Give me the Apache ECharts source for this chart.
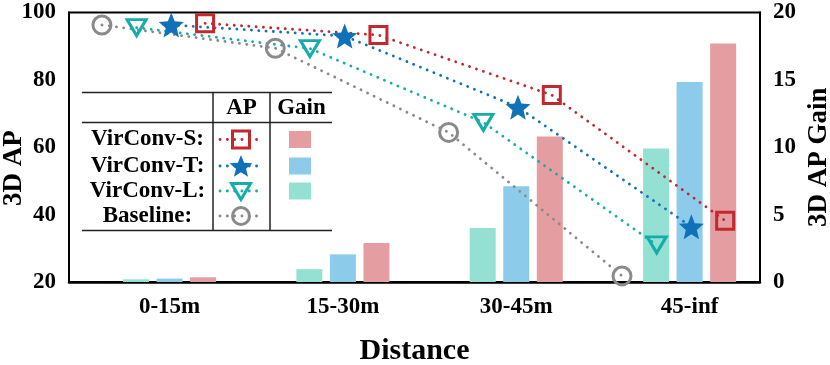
<!DOCTYPE html>
<html>
<head>
<meta charset="utf-8">
<title>3D AP vs Distance</title>
<script src="https://cdn.jsdelivr.net/npm/echarts@6/dist/echarts.min.js"></script>
<style>
    html, body { margin: 0; padding: 0; background: #fff; }
    #chart { width: 830px; height: 365px; }
</style>
</head>
<body>
<div id="chart"></div>
<script>
var categories = ['0-15m', '15-30m', '30-45m', '45-inf'];

// 3D AP, left axis
var apVirConvS = [96.8, 93.3, 75.5, 38.2];
var apVirConvT = [96.3, 93.0, 71.9, 36.4];
var apVirConvL = [95.5, 89.3, 67.4, 31.0];
var apBaseline = [96.3, 89.4, 64.4, 21.8];

// 3D AP gain, right axis
var gainVirConvS = [0.35, 2.9, 10.8, 17.7];
var gainVirConvT = [0.25, 2.05, 7.1, 14.85];
var gainVirConvL = [0.2, 0.95, 4.0, 9.9];

var apTicks = [20, 40, 60, 80, 100];
var gainTicks = [0, 5, 10, 15, 20];

var FONT = '"Liberation Serif", "Times New Roman", serif';
var colors = {
    s: '#c3282e', t: '#0f72b8', l: '#15adab', base: '#8a8a8a',
    barS: '#e49ea1', barT: '#8dcbeb', barL: '#94e1d4'
};
// dotted line: round dots
var DOTS = [0.1, 7.2];

function starPoints(cx, cy, R, r) {
    var pts = [];
    for (var k = 0; k < 10; k++) {
        var a = -Math.PI / 2 + k * Math.PI / 5;
        var rad = k % 2 === 0 ? R : r;
        pts.push([cx + rad * Math.cos(a), cy + rad * Math.sin(a)]);
    }
    return pts;
}
var starSymbol = 'path://' + starPoints(50, 50, 50, 22).map(function (p, k) {
    return (k === 0 ? 'M' : 'L') + p[0].toFixed(2) + ',' + p[1].toFixed(2);
}).join('') + 'Z';

function lineSeries(name, values, offset, color, symbol, extra) {
    var s = {
        name: name,
        type: 'line',
        yAxisIndex: 0,
        z: 5,
        data: values.map(function (v, i) { return [i + offset, v]; }),
        symbol: symbol,
        symbolSize: 17,
        showAllSymbol: true,
        lineStyle: { color: color, width: 2.8, type: DOTS, cap: 'round' },
        itemStyle: { color: 'rgba(0,0,0,0)', borderColor: color, borderWidth: 3 },
        emphasis: { disabled: true }
    };
    for (var key in extra) { s[key] = extra[key]; }
    return s;
}

function barSeries(name, values, color) {
    return {
        name: name,
        type: 'bar',
        yAxisIndex: 1,
        z: 2,
        barWidth: 26,
        barGap: '29%',
        data: values.map(function (v, i) { return [i, v]; }),
        itemStyle: { color: color },
        emphasis: { disabled: true }
    };
}

// table-like legend drawn with graphic elements
function buildLegend() {
    var els = [];
    var x0 = 82, x1 = 332, vx1 = 213, vx2 = 270;
    var yTop = 92.5, yHead = 122.5, yBot = 230.5;
    var lineStyle = { stroke: '#222', lineWidth: 1.5 };
    [yTop, yHead, yBot].forEach(function (y) {
        els.push({ type: 'line', shape: { x1: x0, y1: y, x2: x1, y2: y }, style: lineStyle });
    });
    [vx1, vx2].forEach(function (x) {
        els.push({ type: 'line', shape: { x1: x, y1: yTop, x2: x, y2: yBot }, style: lineStyle });
    });
    function text(str, x, y) {
        els.push({
            type: 'text',
            style: {
                text: str, x: x, y: y, fill: '#000',
                font: 'bold 23px ' + FONT,
                textAlign: 'center', textVerticalAlign: 'middle',
                align: 'center', verticalAlign: 'middle'
            }
        });
    }
    text('AP', 241.5, 108);
    text('Gain', 301.5, 108);

    var apX = 241, gainX = 300;
    var rows = [
        { label: 'VirConv-S:', y: 139.5, color: colors.s, marker: 'square', bar: colors.barS },
        { label: 'VirConv-T:', y: 166, color: colors.t, marker: 'star', bar: colors.barT },
        { label: 'VirConv-L:', y: 191, color: colors.l, marker: 'triangle', bar: colors.barL },
        { label: 'Baseline:', y: 216, color: colors.base, marker: 'circle', bar: null }
    ];
    rows.forEach(function (r) {
        text(r.label, 147.5, r.y);
        els.push({
            type: 'line',
            shape: { x1: apX - 21, y1: r.y, x2: apX + 21, y2: r.y },
            style: { stroke: r.color, lineWidth: 2.8, lineDash: DOTS, lineCap: 'round' }
        });
        var hollow = { fill: 'none', stroke: r.color, lineWidth: 3 };
        if (r.marker === 'square') {
            els.push({ type: 'rect', shape: { x: apX - 8.5, y: r.y - 8.5, width: 17, height: 17 }, style: hollow });
        } else if (r.marker === 'star') {
            els.push({ type: 'polygon', shape: { points: starPoints(apX, r.y + 1, 12, 5.3) }, style: { fill: r.color } });
        } else if (r.marker === 'triangle') {
            els.push({ type: 'polygon', shape: { points: [[apX - 9.5, r.y - 7.5], [apX + 9.5, r.y - 7.5], [apX, r.y + 8.5]] }, style: hollow });
        } else {
            els.push({ type: 'circle', shape: { cx: apX, cy: r.y, r: 8.5 }, style: hollow });
        }
        if (r.bar) {
            els.push({ type: 'rect', shape: { x: gainX - 11, y: r.y - 8.5, width: 22, height: 17 }, style: { fill: r.bar } });
        }
    });
    return { type: 'group', z: 20, children: els };
}

var labelStyle = { color: '#000', fontFamily: FONT, fontWeight: 'bold', fontSize: 23 };
var nameStyle = { color: '#000', fontFamily: FONT, fontWeight: 'bold', fontSize: 27 };

var chart = echarts.init(document.getElementById('chart'), null, { renderer: 'canvas' });
chart.setOption({
    animation: false,
    backgroundColor: '#fff',
    grid: {
        left: 69, right: 70, top: 12.5, bottom: 83,
        show: true, borderColor: '#000', borderWidth: 2,
        outerBoundsMode: 'none'
    },
    xAxis: {
        type: 'value',
        min: -0.58,
        max: 3.406,
        axisLine: { onZero: false, lineStyle: { color: '#000', width: 2.5 } },
        axisTick: { show: false },
        splitLine: { show: false },
        axisLabel: Object.assign({
            margin: 14,
            customValues: [0, 1, 2, 3],
            formatter: function (v) { return categories[Math.round(v)]; }
        }, labelStyle),
        name: 'Distance',
        nameLocation: 'middle',
        nameGap: 54,
        nameMoveOverlap: false,
        nameTextStyle: Object.assign({}, nameStyle, { fontSize: 30 })
    },
    yAxis: [{
        type: 'value',
        min: apTicks[0],
        max: apTicks[apTicks.length - 1],
        interval: apTicks[1] - apTicks[0],
        axisLine: { show: true, onZero: false, lineStyle: { color: '#000', width: 2 } },
        axisTick: { show: false },
        splitLine: { show: false },
        axisLabel: Object.assign({ margin: 13, padding: [5, 0, 0, 0] }, labelStyle),
        name: '3D AP',
        nameLocation: 'middle',
        nameRotate: 90,
        nameGap: 41,
        nameMoveOverlap: false,
        nameTextStyle: Object.assign({ padding: [0, 42, 0, 0] }, nameStyle)
    }, {
        type: 'value',
        position: 'right',
        min: gainTicks[0],
        max: gainTicks[gainTicks.length - 1],
        interval: gainTicks[1] - gainTicks[0],
        axisLine: { show: true, onZero: false, lineStyle: { color: '#000', width: 2 } },
        axisTick: { show: false },
        splitLine: { show: false },
        axisLabel: Object.assign({ margin: 13, padding: [5, 0, 0, 0] }, labelStyle),
        name: '3D AP Gain',
        nameLocation: 'middle',
        nameRotate: 90,
        nameGap: 46,
        nameMoveOverlap: false,
        nameTextStyle: Object.assign({ padding: [0, 20, 0, 0] }, nameStyle)
    }],
    series: [
        barSeries('VirConv-L Gain', gainVirConvL, colors.barL),
        barSeries('VirConv-T Gain', gainVirConvT, colors.barT),
        barSeries('VirConv-S Gain', gainVirConvS, colors.barS),
        lineSeries('Baseline', apBaseline, -0.39, colors.base, 'circle', { symbolSize: 18 }),
        lineSeries('VirConv-L', apVirConvL, -0.19, colors.l, 'triangle', { symbolSize: [19, 16], symbolRotate: 180 }),
        lineSeries('VirConv-T', apVirConvT, 0.01, colors.t, starSymbol, {
            symbolSize: 25,
            itemStyle: { color: colors.t, borderWidth: 0 }
        }),
        lineSeries('VirConv-S', apVirConvS, 0.205, colors.s, 'rect', { symbolSize: 17 })
    ],
    graphic: [buildLegend()]
});
</script>
</body>
</html>
